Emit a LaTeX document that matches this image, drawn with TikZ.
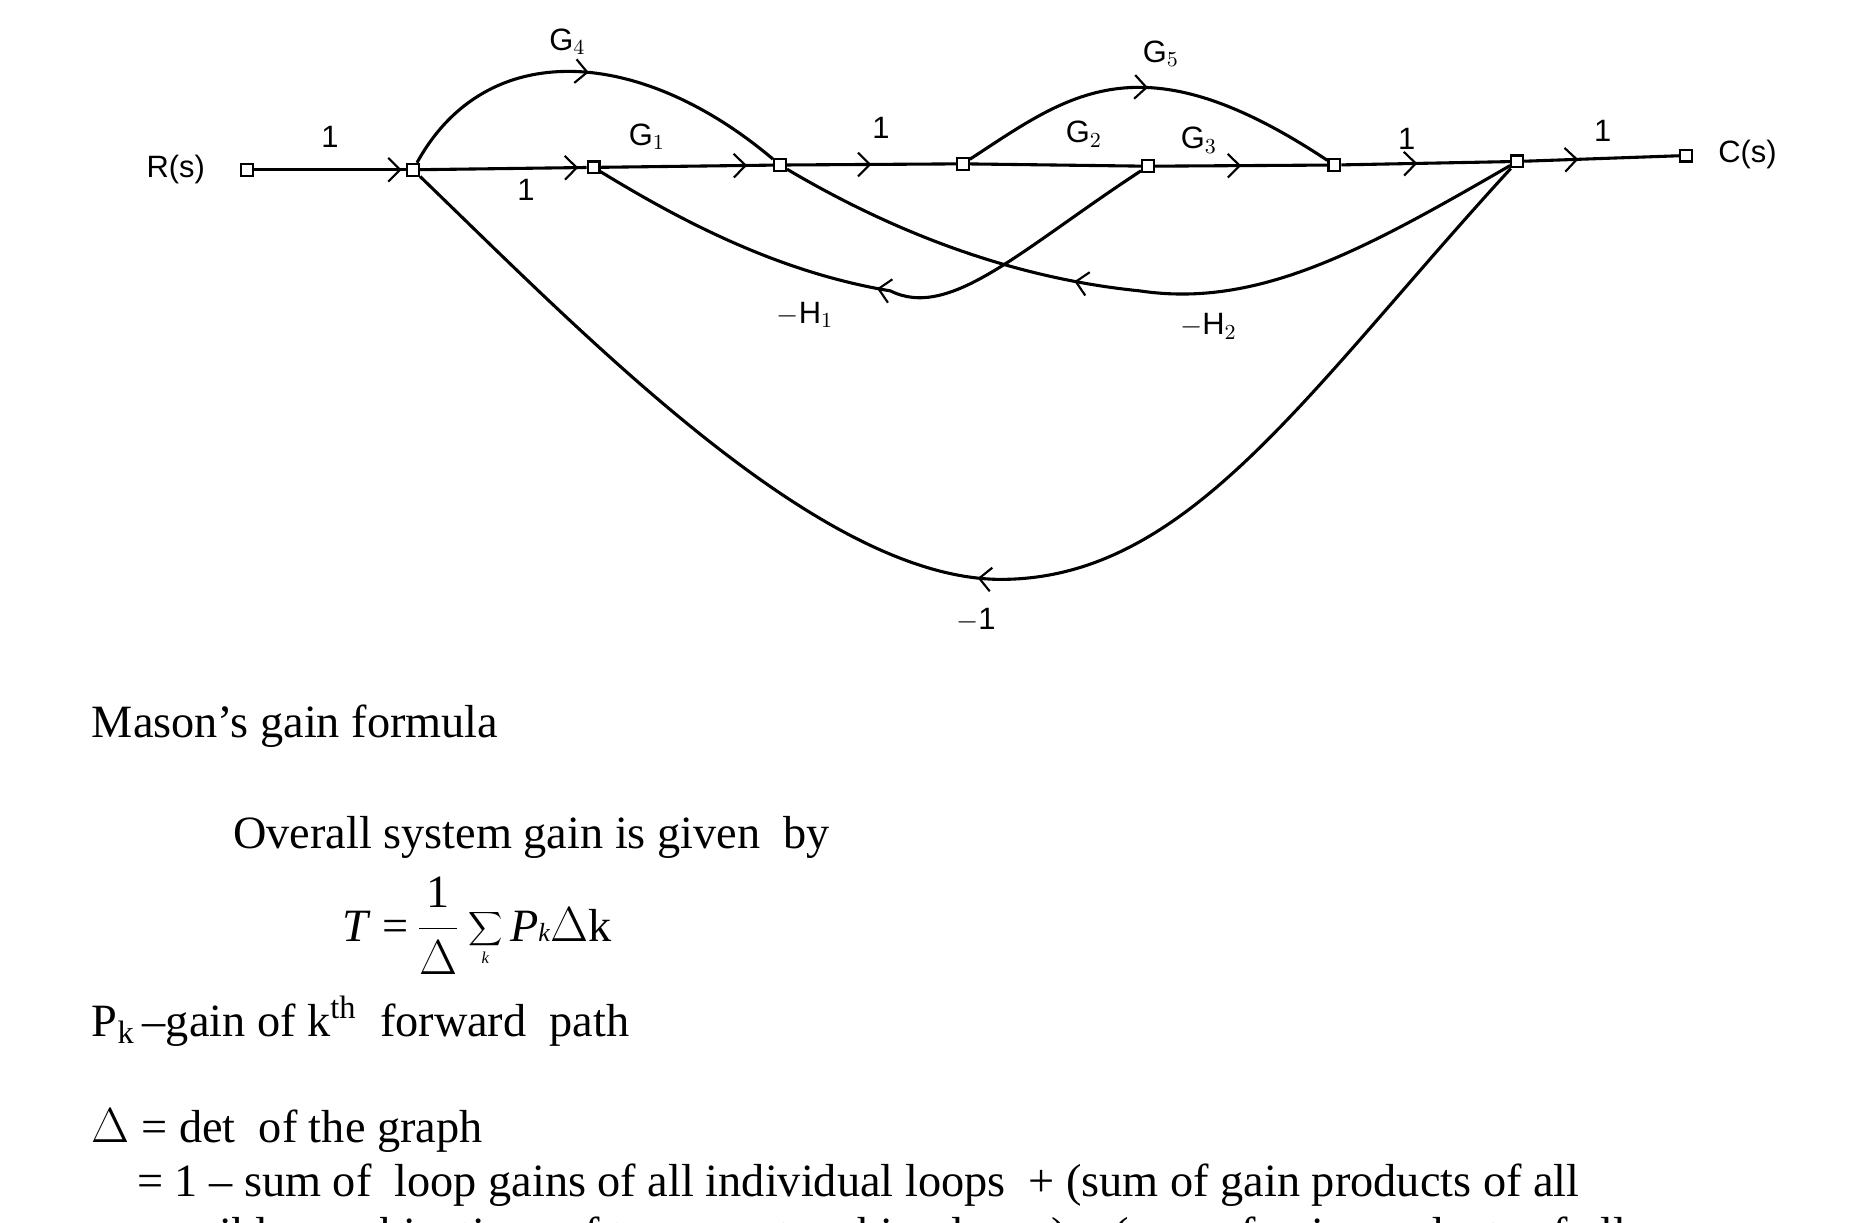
\documentclass[tikz,border=0pt]{standalone}
\usepackage{fontspec}
\setmainfont{Liberation Serif}
\newfontfamily\lsans{Liberation Sans}
\usetikzlibrary{decorations.markings,arrows.meta}
\begin{document}
\begin{tikzpicture}[x=0.5pt,y=-0.5pt,
  nd/.style={draw,line width=0.9pt,fill=white,inner sep=0pt,minimum size=5pt},
  lb/.style={font=\lsans\fontsize{13}{13}\selectfont},
  tx/.style={font=\fontsize{19.5}{22}\selectfont,anchor=west,inner sep=0pt},
  edge/.style={line width=1.3pt},
  mid/.style={postaction={decorate},decoration={markings,mark=at position #1 with {\arrow[line width=0.9pt]{Straight Barb[length=5pt,width=10pt]}}}}]
\clip (0,0) rectangle (1560,1030);
\fill[white] (0,0) rectangle (1560,1030);
% nodes
\node[nd] (r) at (208,143) {};
\node[nd] (n1) at (348,143) {};
\node[nd] (n2) at (500,141) {};
\node[nd] (n3) at (657,139) {};
\node[nd] (n4) at (811,138) {};
\node[nd] (n5) at (967,140) {};
\node[nd] (n6) at (1124,139) {};
\node[nd] (n7) at (1278,136) {};
\node[nd] (c) at (1420,131) {};
% straight edges
\draw[edge,mid=0.97] (r) -- (n1);
\draw[edge,mid=0.95] (n1) -- (n2);
\draw[edge,mid=0.85] (n2) -- (n3);
\draw[edge,mid=0.5] (n3) -- (n4);
\draw[edge] (n4) -- (n5);
\draw[edge,mid=0.5] (n5) -- (n6);
\draw[edge,mid=0.45] (n6) -- (n7);
\draw[edge,mid=0.35] (n7) -- (c);
% curved edges
\draw[edge,mid=0.5] (n1) .. controls (410,30) and (540,40) .. (n3);
\draw[edge,mid=0.5] (n4) .. controls (900,80) and (960,30) .. (n6);
\draw[edge,mid=0.5] (n5) .. controls (860,210) and (800,270) .. (750,245) .. controls (660,230) and (580,190) .. (n2);
\draw[edge,mid=0.6] (n7) .. controls (1150,210) and (1060,260) .. (960,245) .. controls (860,235) and (760,200) .. (n3);
\draw[edge,mid=0.5] (n7) .. controls (1100,330) and (1000,490) .. (840,488) .. controls (690,485) and (500,290) .. (n1);
% labels
\node[lb] at (148,143) {R(s)};
\node[lb] at (1472,130) {C(s)};
\node[lb] at (278,115) {1};
\node[lb] at (443,160) {1};
\node[lb] at (545,115) {G$_1$};
\node[lb] at (478,35) {G$_4$};
\node[lb] at (742,108) {1};
\node[lb] at (913,113) {G$_2$};
\node[lb] at (1010,118) {G$_3$};
\node[lb] at (978,45) {G$_5$};
\node[lb] at (1185,117) {1};
\node[lb] at (1350,110) {1};
\node[lb] at (678,265) {$-$H$_1$};
\node[lb] at (1018,275) {$-$H$_2$};
\node[lb] at (822,522) {$-$1};
% text
\node[tx] at (77,612) {Mason’s gain formula};
\node[tx] at (196,705) {Overall system gain is given\ \ by};
\node[anchor=west,inner sep=0pt,font=\fontsize{19.5}{22}\selectfont] at (288,780) {\textit{T} =\,$\displaystyle\frac{\textrm{1}}{\Delta}\sum_{\textit{\scriptsize k}}$\,\textit{P}{\fontsize{11}{11}\selectfont\textit{k}}$\Delta$\textsc{k}};
\node[tx] at (77,860) {P$_{\mathrm{k}}$\,–gain of k$^{\mathrm{th}}$\ \ forward\ \ path};
\node[tx] at (77,952) {$\Delta$ = det\ \ of the graph};
\node[tx] at (115,998) {= 1 – sum of\ \ loop gains of all individual loops\ \ + (sum of gain products of all};
\node[tx] at (115,1043) {possible combinations of two non-touching loops) – (sum of gain products of all};
\end{tikzpicture}
\end{document}
